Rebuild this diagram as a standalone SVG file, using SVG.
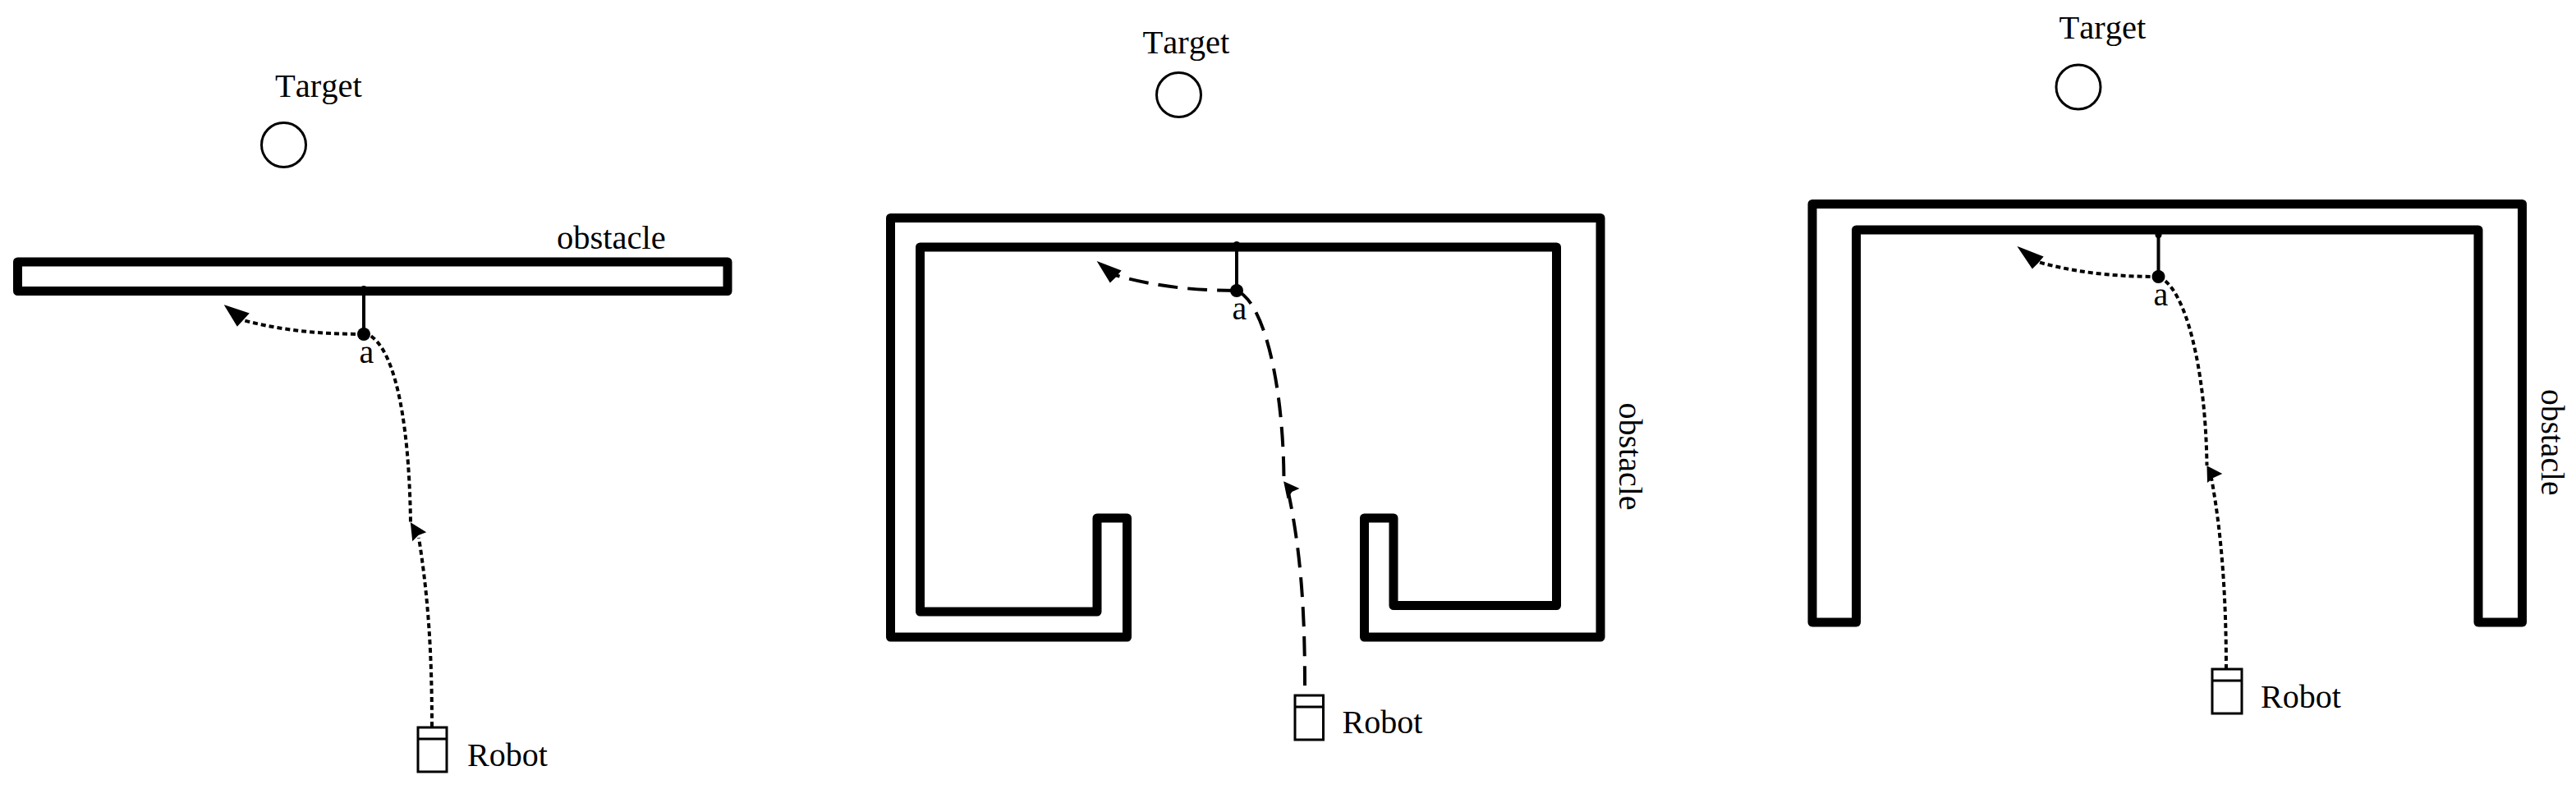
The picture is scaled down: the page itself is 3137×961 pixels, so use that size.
<svg xmlns="http://www.w3.org/2000/svg" width="3137" height="961" viewBox="0 0 3137 961">
<style>
text{font-family:"Liberation Serif","Times New Roman",serif;font-size:40px;fill:#000;font-kerning:none}
.t{font-size:40.5px}
.wall{fill:none;stroke:#000;stroke-width:11;stroke-linejoin:round}
.target{fill:#fff;stroke:#000;stroke-width:3}
.robot{fill:#fff;stroke:#000;stroke-width:3}
.perp{stroke:#000;stroke-width:4;fill:none}
.dot{fill:#000}
.dotted{fill:none;stroke:#000;stroke-width:4;stroke-dasharray:6 4}
.dashed{fill:none;stroke:#000;stroke-width:4;stroke-dasharray:24 12}
.head{fill:#000;stroke:#000;stroke-width:2;stroke-linejoin:miter}
</style>
<rect width="3137" height="961" fill="#fff"/>
<g id="panel-1">
<g id="target-1"><circle class="target" cx="345.5" cy="176.5" r="27"/><text class="t" x="335" y="118">Target</text></g>
<g id="obstacle-1"><rect class="wall" x="21.5" y="319" width="864.5" height="35.5"/><text class="t" x="678" y="303">obstacle</text></g>
<g id="robot-1"><rect class="robot" x="509" y="886" width="35" height="54"/><line class="robot" x1="509" y1="900" x2="544" y2="900"/><text x="569" y="933">Robot</text></g>
<g id="point-a-1"><circle class="dot" cx="443" cy="352" r="4"/><circle class="dot" cx="443" cy="407" r="8"/><text x="437.5" y="442">a</text></g>
</g>
<g id="panel-2">
<g id="target-2"><circle class="target" cx="1435.5" cy="115.5" r="27"/><text class="t" x="1391.5" y="65">Target</text></g>
<g id="obstacle-2"><path class="wall" d="M1084.5 265.5H1949V776H1661.5V631H1697V737.5H1895.5V301H1120.5V745H1336V631H1372.5V776H1084.5Z"/><text transform="translate(1971.5 490.5) rotate(90)">obstacle</text></g>
<g id="robot-2"><rect class="robot" x="1577" y="847" width="34.5" height="54"/><line class="robot" x1="1577" y1="861" x2="1611.5" y2="861"/><text x="1634.5" y="893">Robot</text></g>
<g id="point-a-2"><circle class="dot" cx="1506" cy="298" r="4"/><circle class="dot" cx="1506" cy="354" r="8"/><text x="1500.5" y="389">a</text></g>
</g>
<g id="panel-3">
<g id="target-3"><circle class="target" cx="2531" cy="106" r="27"/><text class="t" x="2507.5" y="47">Target</text></g>
<g id="obstacle-3"><path class="wall" d="M2207 248.5H3071.5V758H3018V280H2260.5V758H2207Z"/><text style="font-size:39.5px" transform="translate(3095 474) rotate(90)">obstacle</text></g>
<g id="robot-3"><rect class="robot" x="2694" y="815" width="36" height="54"/><line class="robot" x1="2694" y1="829" x2="2730" y2="829"/><text x="2753" y="862">Robot</text></g>
<g id="point-a-3"><circle class="dot" cx="2628.5" cy="286" r="4"/><circle class="dot" cx="2628.5" cy="337" r="8"/><text x="2622.5" y="372">a</text></g>
</g>
<g id="connectors">
<line class="perp" x1="443" y1="352" x2="443" y2="407"/>
<path class="dotted" d="M443 407C393 407 345 403 296 390"/>
<path class="head" d="M275 373L302 382L295.5 389L289 396Z"/>
<path class="dotted" d="M443 405C478 415 498 500 500 636"/>
<path class="head" d="M501 638L517 648L509 651L503 657Z"/>
<path class="dotted" d="M526 885C526 800 522 730 510 655"/>
<line class="perp" x1="1506" y1="298" x2="1506" y2="354"/>
<path class="dashed" d="M1506 354C1460 354 1410 350 1358 335"/>
<path class="head" d="M1338 320L1364 330L1358 337L1352 343Z"/>
<path class="dashed" d="M1506 354C1540 368 1563 470 1563.5 586"/>
<path class="head" d="M1564.5 588L1580 595L1573 598L1568 605Z"/>
<path class="dashed" d="M1589 835C1589 760 1586 680 1569 600"/>
<line class="perp" x1="2628.5" y1="286" x2="2628.5" y2="337"/>
<path class="dotted" d="M2628.5 337C2580 337 2530 333 2478 318"/>
<path class="head" d="M2459 302L2487 313L2481 320L2475 326Z"/>
<path class="dotted" d="M2628.5 337C2662 350 2686 450 2687.5 567"/>
<path class="head" d="M2688.5 569L2704 577L2695 581L2689 586Z"/>
<path class="dotted" d="M2711 815C2711 730 2706 650 2692 577"/>
</g>
</svg>
